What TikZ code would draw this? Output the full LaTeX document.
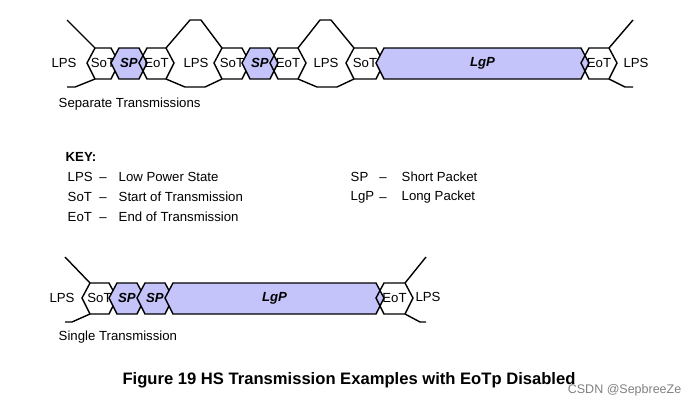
\documentclass[tikz,border=0pt]{standalone}
\usepackage{fontspec}
\setmainfont{Liberation Sans}
\begin{document}
\begin{tikzpicture}[x=1pt,y=-1pt,line width=1.4pt,
  txt/.style={font=\fontsize{13.2}{15}\selectfont,inner sep=0},
  pk/.style={fill=pkfill},
  ]
\definecolor{pkfill}{RGB}{196,196,250}
\useasboundingbox (0,0) rectangle (696,408);
\newcommand\mycell[5]{%
  \draw[#4] (#1-4,#3) -- (#1+4,#3-15) -- (#2-4,#3-15) -- (#2+4,#3) -- (#2-4,#3+16) -- (#1+4,#3+16) -- cycle;
  \node[txt] at ({(#1+#2)/2},#3) {#5};}
% ---- top row
\mycell{91}{115}{63}{}{SoT}
\mycell{115}{143}{63}{pk}{\textbf{\textit{SP}}}
\mycell{143}{170}{63}{}{EoT}
\mycell{218}{246}{63}{}{SoT}
\mycell{246}{274}{63}{pk}{\textbf{\textit{SP}}}
\mycell{274}{302}{63}{}{EoT}
\mycell{350}{380}{63}{}{SoT}
\mycell{380}{585}{63}{pk}{\textbf{\textit{LgP}}}
\mycell{585}{613}{63}{}{EoT}
\draw (67,20) -- (95,48); \draw (95,79) -- (75,87) -- (67,87);
\draw (166,48) -- (190,20) -- (201,20) -- (222,48);
\draw (166,79) -- (185,87) -- (205,87) -- (222,79);
\draw (298,48) -- (320,20) -- (331,20) -- (354,48);
\draw (298,79) -- (317,87) -- (337,87) -- (354,79);
\draw (609,48) -- (633,20); \draw (609,79) -- (625,87) -- (633,87);
\node[txt] (l1) at (64,63) {LPS};
\node[txt] (l2) at (196,63) {LPS};
\node[txt] (l3) at (326,63) {LPS};
\node[txt] (l4) at (636,63) {LPS};
\node[txt,anchor=west] (st) at (58,104) {Separate Transmissions};
% ---- key
\node[txt,anchor=west] (key) at (65,157) {\textbf{KEY:}};
\foreach \a/\b/\y [count=\i] in {LPS/Low Power State/177, SoT/Start of Transmission/197, EoT/End of Transmission/217}{
  \node[txt,anchor=west] (ka\i) at (67,\y) {\a};
  \node[txt,anchor=base] (kd\i) at (103,\y+4.8) {--};
  \node[txt,anchor=west] (kb\i) at (118,\y) {\b};}
\foreach \a/\b/\y [count=\i] in {SP/Short Packet/177, LgP/Long Packet/197}{
  \node[txt,anchor=west] (ra\i) at (350,\y) {\a};
  \node[txt,anchor=base] (rd\i) at (383,\y+4.8) {--};
  \node[txt,anchor=west] (rb\i) at (401,\y) {\b};}
% ---- bottom row
\mycell{86}{113}{298}{}{SoT}
\mycell{113}{141}{298}{pk}{\textbf{\textit{SP}}}
\mycell{141}{169}{298}{pk}{\textbf{\textit{SP}}}
\mycell{169}{380}{298}{pk}{\textbf{\textit{LgP}}}
\mycell{380}{409}{298}{}{EoT}
\draw (65,257) -- (90,283); \draw (90,314) -- (72,322) -- (65,322);
\draw (405,283) -- (426,257); \draw (405,314) -- (420,322) -- (426,322);
\node[txt] (l5) at (62,298) {LPS};
\node[txt] (l6) at (428,297) {LPS};
\node[txt,anchor=west] (sg) at (58,337) {Single Transmission};
\node[font=\fontsize{16.6}{18}\selectfont\bfseries,inner sep=0] (cap) at (349,380) {Figure 19 HS Transmission Examples with EoTp Disabled};
\node[font=\fontsize{12.5}{14}\selectfont,text=gray,inner sep=0,anchor=east] (wm) at (682,390) {CSDN @SepbreeZe};
\end{tikzpicture}
\end{document}
